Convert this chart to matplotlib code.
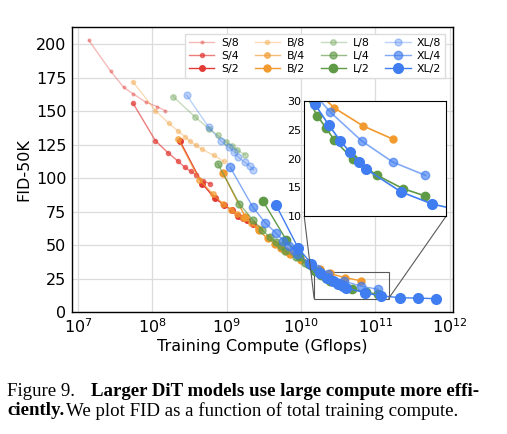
import numpy as np
import matplotlib
matplotlib.use("Agg")
import matplotlib.pyplot as plt
from mpl_toolkits.axes_grid1.inset_locator import mark_inset

# training compute (Gflops) and FID-50K
models = ['S/8', 'S/4', 'S/2', 'B/8', 'B/4', 'B/2',
          'L/8', 'L/4', 'L/2', 'XL/8', 'XL/4', 'XL/2']

s8_x = [1.4e7, 2.75e7, 4.1e7, 5.5e7, 8.1e7, 1.15e8, 1.5e8]
s8_y = [203, 180, 168, 163, 157, 153.5, 150.3]
s4_x = [5.5e7, 1.1e8, 1.62e8, 2.19e8, 2.75e8, 3.31e8, 3.89e8, 4.79e8, 6.03e8]
s4_y = [156, 128, 119, 113, 108, 105, 102.5, 98, 95.7]
s2_x = [2.34e8, 4.68e8, 6.9e8, 9.3e8, 1.17e9, 1.41e9, 1.66e9, 1.9e9, 2.24e9]
s2_y = [128, 96, 85, 80, 76, 72, 70, 68.4, 66]

b8_x = [5.5e7, 1.1e8, 1.66e8, 2.19e8, 2.75e8, 3.24e8, 3.89e8, 4.68e8, 6.76e8, 9.12e8]
b8_y = [172, 150.5, 141, 135.5, 131, 127.5, 124.5, 121.5, 117, 112.5]
b4_x = [2.24e8, 4.27e8, 6.6e8, 8.9e8, 1.15e9, 1.38e9, 1.66e9, 2.14e9, 2.63e9]
b4_y = [129, 99, 88, 81, 76.5, 73, 70.3, 66.6, 63]
b2_x = [8.9e8, 1.78e9, 2.69e9, 3.55e9, 4.47e9, 5.37e9, 6.31e9, 7.08e9,
        1.0e10, 1.41e10, 1.78e10, 2.45e10, 3.89e10, 6.31e10]
b2_y = [104, 71, 61, 55, 51, 48, 45.5, 43.5, 39, 35, 32, 28.8, 25.7, 23.4]

l8_x = [1.9e8, 3.8e8, 5.75e8, 7.6e8, 9.8e8, 1.17e9, 1.38e9, 1.78e9]
l8_y = [161, 145.5, 137, 132, 127, 124, 121, 117.5]
l4_x = [7.6e8, 1.48e9, 2.24e9, 3.02e9, 3.8e9, 4.57e9, 5.37e9, 6.03e9,
        8.5e9, 1.12e10, 1.41e10, 1.78e10]
l4_y = [110.8, 80.8, 69, 61, 56, 52, 49, 45.6, 41, 37, 34, 31]
l2_x = [3.09e9, 6.31e9, 9.33e9, 1.26e10, 1.55e10, 1.86e10, 2.14e10, 2.45e10,
        3.31e10, 4.9e10, 7.41e10, 1.07e11]
l2_y = [82.7, 54, 42, 36, 31, 27.4, 25.3, 23.2, 19.9, 17.1, 14.8, 13.5]

xl8_x = [2.9e8, 5.75e8, 8.5e8, 1.07e9, 1.26e9, 1.41e9, 1.74e9, 2.04e9, 2.29e9]
xl8_y = [162, 138, 127.4, 123, 119.5, 116, 112, 109, 106.3]
xl4_x = [1.12e9, 2.24e9, 3.31e9, 4.57e9, 5.75e9, 6.92e9, 7.94e9, 8.9e9,
         1.26e10, 1.66e10, 2.29e10, 3.8e10, 6.31e10, 1.07e11]
xl4_y = [108, 78.5, 66.6, 59.2, 53.4, 49.5, 46.5, 43.5, 37, 32, 28.1, 23.1, 19.4, 17.1]
xl2_x = [4.57e9, 9.12e9, 1.38e10, 1.78e10, 2.24e10, 2.69e10, 3.16e10, 3.63e10,
         4.07e10, 7.24e10, 1.2e11, 2.14e11, 3.72e11, 6.46e11]
xl2_y = [80.3, 48, 36, 29.5, 25.8, 23.1, 21.1, 19.4, 18.2, 14.2, 12.1, 10.7, 10.4, 10.0]

xs = [s8_x, s4_x, s2_x, b8_x, b4_x, b2_x, l8_x, l4_x, l2_x, xl8_x, xl4_x, xl2_x]
ys = [s8_y, s4_y, s2_y, b8_y, b4_y, b2_y, l8_y, l4_y, l2_y, xl8_y, xl4_y, xl2_y]

family_colors = {'S': '#e23b36', 'B': '#f29a2e', 'L': '#5f9a46', 'XL': '#3f7df0'}
patch_alpha = {'8': 0.35, '4': 0.65, '2': 1.0}
base_ms = {'S': 2.0, 'B': 3.0, 'L': 4.0, 'XL': 5.0}
patch_ms = {'8': 0.0, '4': 1.0, '2': 2.0}

fig = plt.figure(figsize=(5.07, 4.34), dpi=100)
ax = fig.add_axes([0.142, 0.281, 0.751, 0.657])


def draw(a, lw=1.0):
    for name, x, y in zip(models, xs, ys):
        fam, p = name.split('/')
        a.plot(x, y, '-o', color=family_colors[fam], alpha=patch_alpha[p],
               lw=lw, ms=base_ms[fam] + patch_ms[p], label=name)


draw(ax)
ax.set_xscale('log')
ax.set_xlim(10 ** 6.92, 10 ** 12.04)
ax.set_ylim(0, 213)
ax.set_yticks(np.arange(0, 201, 25))
ax.set_xticks([1e7, 1e8, 1e9, 1e10, 1e11, 1e12])
ax.minorticks_off()
ax.tick_params(labelsize=11.5, length=0, pad=4)
ax.grid(True, color='#dcdcdc', lw=0.9)
ax.set_axisbelow(True)
ax.set_xlabel('Training Compute (Gflops)', fontsize=11.5, labelpad=2)
ax.set_ylabel('FID-50K', fontsize=11.5, labelpad=3)
for sp in ax.spines.values():
    sp.set_linewidth(1.0)

ax.legend(ncol=4, loc='upper right', fontsize=7.9, handlelength=2.3,
          columnspacing=1.45, labelspacing=0.3, borderpad=0.35, handletextpad=0.6,
          bbox_to_anchor=(0.995, 0.995), framealpha=1.0, edgecolor='#dddddd',
          fancybox=False)

# zoomed inset
axins = fig.add_axes([0.600, 0.502, 0.280, 0.265])
draw(axins, lw=1.2)
axins.set_xscale('log')
axins.set_xlim(1.5e10, 1.5e11)
axins.set_ylim(10, 30)
axins.set_yticks([10, 15, 20, 25, 30])
axins.minorticks_off()
axins.set_xticks([])
axins.tick_params(labelsize=8, length=0, pad=2)
axins.set_facecolor('white')
mark_inset(ax, axins, loc1=3, loc2=4, fc='none', ec='0.35', lw=0.8)

# caption
cap = dict(family='Liberation Serif', fontsize=13.6, va='center')
fig.text(0.014, 0.097, 'Figure 9.', **cap)
fig.text(0.1795, 0.097, 'Larger DiT models use large compute more effi-',
         fontweight='bold', **cap)
fig.text(0.014, 0.053, 'ciently.', fontweight='bold', **cap)
fig.text(0.130, 0.053, 'We plot FID as a function of total training compute.', **cap)

fig.savefig('out.png', dpi=100)
